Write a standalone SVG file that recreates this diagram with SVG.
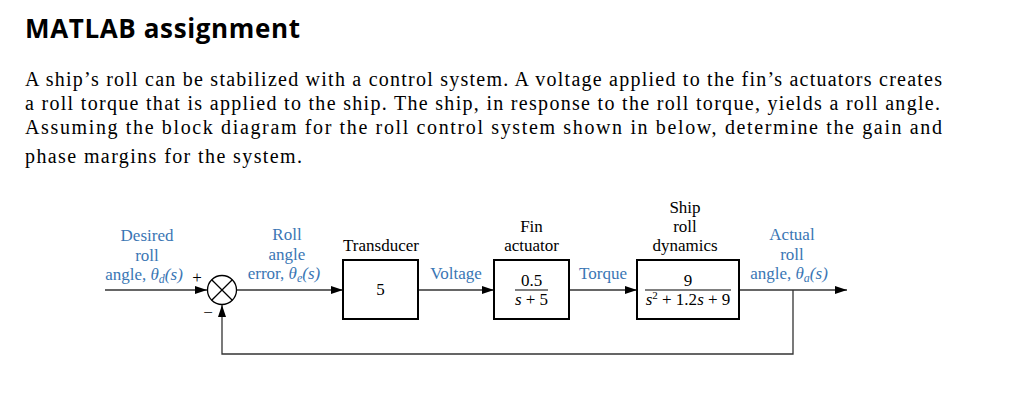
<svg xmlns="http://www.w3.org/2000/svg" width="1014" height="408" viewBox="0 0 1014 408">
<style>
.t{font-family:"Liberation Serif",serif;font-size:20px;fill:#000}
.d{font-family:"Liberation Serif",serif;font-size:17px;fill:#000;text-anchor:middle}
.b{font-family:"Liberation Serif",serif;font-size:17px;fill:#3a76b4;text-anchor:middle}
.box{fill:#fff;stroke:#000;stroke-width:2}
.ln{fill:none;stroke:#333;stroke-width:1.3}
</style>
<defs><marker id="a" markerWidth="12" markerHeight="8" refX="12" refY="4" orient="auto" markerUnits="userSpaceOnUse"><path d="M0,0L12,4L0,8Z" fill="#000"/></marker></defs>
<rect width="1014" height="408" fill="#fff"/>
<text x="25" y="38" style="font-family:'Open Sans',sans-serif;font-size:26px;font-weight:bold" textLength="275">MATLAB assignment</text>
<text class="t" x="25" y="86" textLength="917">A ship’s roll can be stabilized with a control system.  A voltage applied to the fin’s actuators creates</text>
<text class="t" x="25" y="110" textLength="915">a roll torque that is applied to the ship.  The ship, in response to the roll torque, yields a roll angle.</text>
<text class="t" x="25" y="134" textLength="917">Assuming the block diagram for the roll control system shown in below, determine the gain and</text>
<text class="t" x="25" y="163" textLength="277">phase margins for the system.</text>
<g id="connectors">
<path class="ln" d="M105,290H207" marker-end="url(#a)"/>
<path class="ln" d="M237,290H343" marker-end="url(#a)"/>
<path class="ln" d="M418,290H494" marker-end="url(#a)"/>
<path class="ln" d="M569,290H637" marker-end="url(#a)"/>
<path class="ln" d="M739,290H847" marker-end="url(#a)"/>
<path class="ln" d="M793,290V354H222V305" marker-end="url(#a)"/>
</g>
<g id="sum"><circle cx="222" cy="290" r="14.5" fill="#fff" stroke="#000" stroke-width="1.3"/><path d="M211.7,279.7L232.3,300.3M232.3,279.7L211.7,300.3" stroke="#000" stroke-width="1.3"/>
<text class="d" x="197" y="283">+</text><text class="d" x="208" y="318">−</text></g>
<g id="transducer"><rect class="box" x="343" y="260" width="75" height="59"/><text class="d" x="380.5" y="295">5</text><text class="d" x="381" y="251">Transducer</text></g>
<g id="fin"><rect class="box" x="494" y="260" width="75" height="59"/><text class="d" x="531.5" y="286">0.5</text><path d="M515,290H548" stroke="#000"/><text class="d" x="531.5" y="305" font-style="italic">s<tspan font-style="normal"> + 5</tspan></text><text class="d" x="531.5" y="232">Fin</text><text class="d" x="531.5" y="251">actuator</text></g>
<g id="ship"><rect class="box" x="637" y="260" width="102" height="59"/><text class="d" x="688" y="286">9</text><path d="M645,290H731" stroke="#000"/><text class="d" x="688" y="305"><tspan font-style="italic">s</tspan><tspan dy="-6" font-size="11">2</tspan><tspan dy="6"> + 1.2</tspan><tspan font-style="italic">s</tspan> + 9</text><text class="d" x="685" y="213">Ship</text><text class="d" x="685" y="232">roll</text><text class="d" x="685" y="251">dynamics</text></g>
<g id="labels">
<text class="b" x="147" y="241">Desired</text><text class="b" x="147" y="261">roll</text><text class="b" x="144" y="280">angle, <tspan font-style="italic">θ<tspan font-size="12" dy="3">d</tspan><tspan dy="-3">(s)</tspan></tspan></text>
<text class="b" x="287" y="240">Roll</text><text class="b" x="287" y="260">angle</text><text class="b" x="284" y="279">error,  <tspan font-style="italic">θ<tspan font-size="12" dy="3">e</tspan><tspan dy="-3">(s)</tspan></tspan></text>
<text class="b" x="456" y="279">Voltage</text>
<text class="b" x="603" y="279">Torque</text>
<text class="b" x="792" y="240">Actual</text><text class="b" x="792" y="260">roll</text><text class="b" x="789" y="279">angle, <tspan font-style="italic">θ<tspan font-size="12" dy="3">a</tspan><tspan dy="-3">(s)</tspan></tspan></text>
</g>
</svg>
